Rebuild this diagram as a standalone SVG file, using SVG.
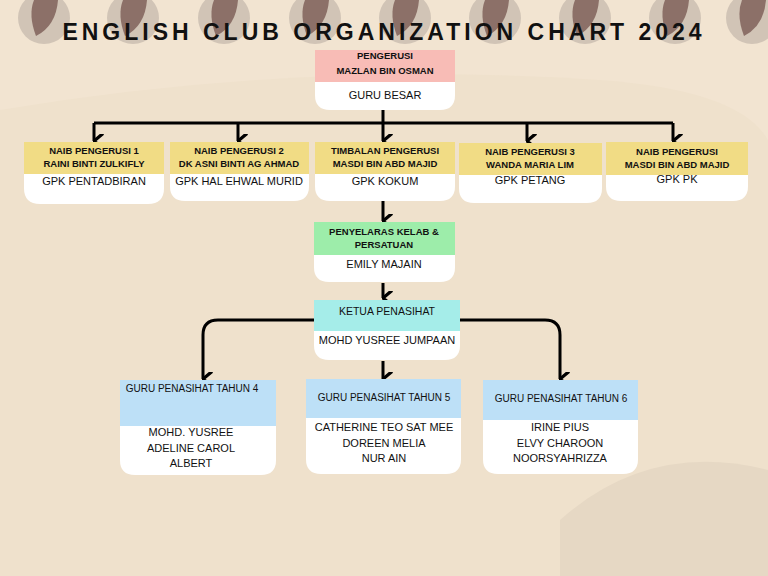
<svg xmlns="http://www.w3.org/2000/svg" width="768" height="576" viewBox="0 0 768 576">
<defs>
<style>
.t{font-family:"Liberation Sans",Arial,sans-serif;font-size:11px;fill:#111;text-anchor:middle}
.b{font-weight:bold;font-size:9.5px}
.w{fill:#fff}
.c{fill:none;stroke:#000;stroke-width:3}
</style>
<marker id="a" viewBox="0 0 10 10" refX="5" refY="9" markerWidth="5" markerHeight="5" orient="auto"><path d="M0,3 L5,9 L10,3" fill="none" stroke="#000" stroke-width="2.2"/></marker>
</defs>
<rect width="768" height="576" fill="#f2e4d1"/>
<path d="M0,110 Q300,60 600,80 Q740,90 768,140 L768,576 L0,576Z" fill="#efe1cc"/>
<path d="M560,520 Q650,440 768,470 L768,576 L560,576Z" fill="#e6d8c4"/>
<g fill="#d1c4b6"><ellipse cx="44" cy="18" rx="26" ry="26"/><ellipse cx="133" cy="18" rx="26" ry="26"/><ellipse cx="224" cy="18" rx="26" ry="26"/><ellipse cx="315" cy="18" rx="26" ry="26"/><ellipse cx="405" cy="18" rx="26" ry="26"/><ellipse cx="495" cy="18" rx="26" ry="26"/><ellipse cx="585" cy="18" rx="26" ry="26"/><ellipse cx="675" cy="18" rx="26" ry="26"/><ellipse cx="752" cy="18" rx="26" ry="26"/></g>
<g fill="#8c7068"><path d="M34,0 L58,0 Q56,26 36,36 Q28,15 34,0Z"/><path d="M123,0 L147,0 Q145,26 125,36 Q117,15 123,0Z"/><path d="M214,0 L238,0 Q236,26 216,36 Q208,15 214,0Z"/><path d="M305,0 L329,0 Q327,26 307,36 Q299,15 305,0Z"/><path d="M395,0 L419,0 Q417,26 397,36 Q389,15 395,0Z"/><path d="M485,0 L509,0 Q507,26 487,36 Q479,15 485,0Z"/><path d="M575,0 L599,0 Q597,26 577,36 Q569,15 575,0Z"/><path d="M665,0 L689,0 Q687,26 667,36 Q659,15 665,0Z"/><path d="M742,0 L766,0 Q764,26 744,36 Q736,15 742,0Z"/></g>
<text x="384" y="40" style="font-family:'Liberation Sans',Arial,sans-serif;font-size:23px;font-weight:bold;letter-spacing:4px;text-anchor:middle;fill:#111">ENGLISH CLUB ORGANIZATION CHART 2024</text>
<g id="connectors">
<path class="c" d="M383,110 V123 M94,123 H673"/>
<path class="c" marker-end="url(#a)" d="M94,123 V141"/>
<path class="c" marker-end="url(#a)" d="M238,123 V141"/>
<path class="c" marker-end="url(#a)" d="M383,123 V141"/>
<path class="c" marker-end="url(#a)" d="M527,123 V141"/>
<path class="c" marker-end="url(#a)" d="M673,123 V141"/>
<path class="c" marker-end="url(#a)" d="M383,201 V221"/>
<path class="c" marker-end="url(#a)" d="M383,283 V298"/>
<path class="c" marker-end="url(#a)" d="M383,361 V379"/>
<path class="c" marker-end="url(#a)" d="M314,320 H218 Q203,320 203,335 V379"/>
<path class="c" marker-end="url(#a)" d="M460,320 H545 Q560,320 560,335 V379"/>
</g>
<g id="pengerusi"><path class="w" d="M315,82 H455 V95 Q455,110 440,110 H330 Q315,110 315,95Z"/><rect x="315" y="50" width="140" height="32" fill="#f8bcb6"/><text class="t b" x="385" y="59">PENGERUSI</text><text class="t b" x="385" y="74">MAZLAN BIN OSMAN</text><text class="t" x="385" y="99">GURU BESAR</text></g>
<g id="naib1"><path class="w" d="M24,174 H164 V188 Q164,204 148,204 H40 Q24,204 24,188Z"/><rect x="24" y="142" width="140" height="32" fill="#f1dc85"/><text class="t b" x="94" y="154">NAIB PENGERUSI 1</text><text class="t b" x="94" y="167">RAINI BINTI ZULKIFLY</text><text class="t" x="94" y="185">GPK PENTADBIRAN</text></g>
<g id="naib2"><path class="w" d="M170,174 H309 V186 Q309,201 294,201 H185 Q170,201 170,186Z"/><rect x="170" y="142" width="139" height="32" fill="#f1dc85"/><text class="t b" x="239" y="154">NAIB PENGERUSI 2</text><text class="t b" x="239" y="167">DK ASNI BINTI AG AHMAD</text><text class="t" x="239" y="185">GPK HAL EHWAL MURID</text></g>
<g id="timbalan"><path class="w" d="M315,174 H455 V186 Q455,201 440,201 H330 Q315,201 315,186Z"/><rect x="315" y="142" width="140" height="32" fill="#f1dc85"/><text class="t b" x="385" y="154">TIMBALAN PENGERUSI</text><text class="t b" x="385" y="167">MASDI BIN ABD MAJID</text><text class="t" x="385" y="185">GPK KOKUM</text></g>
<g id="naib3"><path class="w" d="M459,175 H602 V188 Q602,203 587,203 H474 Q459,203 459,188Z"/><rect x="459" y="143" width="143" height="32" fill="#f1dc85"/><text class="t b" x="530" y="155">NAIB PENGERUSI 3</text><text class="t b" x="530" y="168">WANDA MARIA LIM</text><text class="t" x="530" y="184">GPK PETANG</text></g>
<g id="naib4"><path class="w" d="M606,175 H748 V186 Q748,201 733,201 H621 Q606,201 606,186Z"/><rect x="606" y="142" width="142" height="33" fill="#f1dc85"/><text class="t b" x="677" y="155">NAIB PENGERUSI</text><text class="t b" x="677" y="168">MASDI BIN ABD MAJID</text><text class="t" x="677" y="183">GPK PK</text></g>
<g id="penyelaras"><path class="w" d="M314,255 H455 V267 Q455,282 440,282 H329 Q314,282 314,267Z"/><rect x="314" y="222" width="141" height="33" fill="#9dedaa"/><text class="t b" x="384" y="235">PENYELARAS KELAB &amp;</text><text class="t b" x="384" y="248">PERSATUAN</text><text class="t" x="384" y="268">EMILY MAJAIN</text></g>
<g id="ketua"><path class="w" d="M314,331 H460 V345 Q460,360 445,360 H329 Q314,360 314,345Z"/><rect x="314" y="300" width="146" height="31" fill="#a5ede9"/><text class="t" x="387" y="315" style="font-size:10.5px">KETUA PENASIHAT</text><text class="t" x="387" y="344">MOHD YUSREE JUMPAAN</text></g>
<g id="tahun4"><path class="w" d="M120,426 H276 V460 Q276,475 261,475 H135 Q120,475 120,460Z"/><rect x="120" y="380" width="156" height="46" fill="#bde0f7"/><text class="t" x="192" y="392" style="font-size:10px">GURU PENASIHAT TAHUN 4</text><text class="t" x="191" y="436">MOHD. YUSREE</text><text class="t" x="191" y="452">ADELINE CAROL</text><text class="t" x="191" y="467">ALBERT</text></g>
<g id="tahun5"><path class="w" d="M306,418 H461 V459 Q461,474 446,474 H321 Q306,474 306,459Z"/><rect x="306" y="379" width="155" height="39" fill="#bde0f7"/><text class="t" x="384" y="401" style="font-size:10px">GURU PENASIHAT TAHUN 5</text><text class="t" x="384" y="431">CATHERINE TEO SAT MEE</text><text class="t" x="384" y="447">DOREEN MELIA</text><text class="t" x="384" y="462">NUR AIN</text></g>
<g id="tahun6"><path class="w" d="M483,420 H638 V459 Q638,474 623,474 H498 Q483,474 483,459Z"/><rect x="483" y="380" width="155" height="40" fill="#bde0f7"/><text class="t" x="561" y="402" style="font-size:10px">GURU PENASIHAT TAHUN 6</text><text class="t" x="560" y="431">IRINE PIUS</text><text class="t" x="560" y="447">ELVY CHAROON</text><text class="t" x="560" y="462">NOORSYAHRIZZA</text></g>
</svg>
